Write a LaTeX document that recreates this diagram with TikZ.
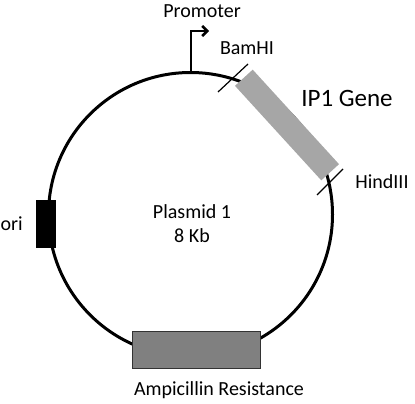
\documentclass[tikz,border=0pt]{standalone}
\usepackage{fontspec}
\setmainfont{Carlito}
\usetikzlibrary{arrows.meta}
\definecolor{genegray}{HTML}{A6A6A6}
\definecolor{ampgray}{HTML}{808080}
\tikzset{
	lbl/.style={font=\fontsize{20}{24}\selectfont, inner sep=0pt},
	cutmark/.style={line width=1.2pt},
}
\begin{document}
\begin{tikzpicture}[x=1pt,y=-1pt]
		\useasboundingbox (0,0) rectangle (415,404);
		\draw[line width=3pt] (190.5,214.5) circle (142pt);
		\coordinate (prom) at (191,72);
		\coordinate (bam) at (233,78);
		\coordinate (hind) at (329,183);
		\node[fill=genegray, rotate=-47.6, minimum width=128pt, minimum height=24pt, inner sep=0pt] (gene) at (287,125) {};
		\node[fill=black, minimum width=20pt, minimum height=48pt, inner sep=0pt] (ori) at (46,224) {};
		\node[fill=ampgray, draw=black!80, line width=1pt, minimum width=128pt, minimum height=37pt, inner sep=0pt] (amp) at (196,350) {};
		\draw[cutmark] (bam) ++(-15,14) -- ++(30,-28);
		\draw[cutmark] (hind) ++(-12,12) -- ++(26,-26);
		\draw[line width=2.5pt, -{Straight Barb[length=5pt,width=10pt]}] (prom) |- ++(18,-41);
		\node[lbl] (promlbl) at (202,11) {Promoter};
		\node[lbl] (bamlbl) at (247,48) {BamHI};
		\node[lbl, font=\fontsize{25}{30}\selectfont] (genelbl) at (347,98) {IP1 Gene};
		\node[lbl] (hindlbl) at (382,182) {HindIII};
		\node[lbl, anchor=east] (orilbl) at (23,224) {ori};
		\node[lbl, align=center] (plasmid) at (192,224) {Plasmid 1\\8 Kb};
		\node[lbl] (amplbl) at (219,390) {Ampicillin Resistance};
\end{tikzpicture}
\end{document}
